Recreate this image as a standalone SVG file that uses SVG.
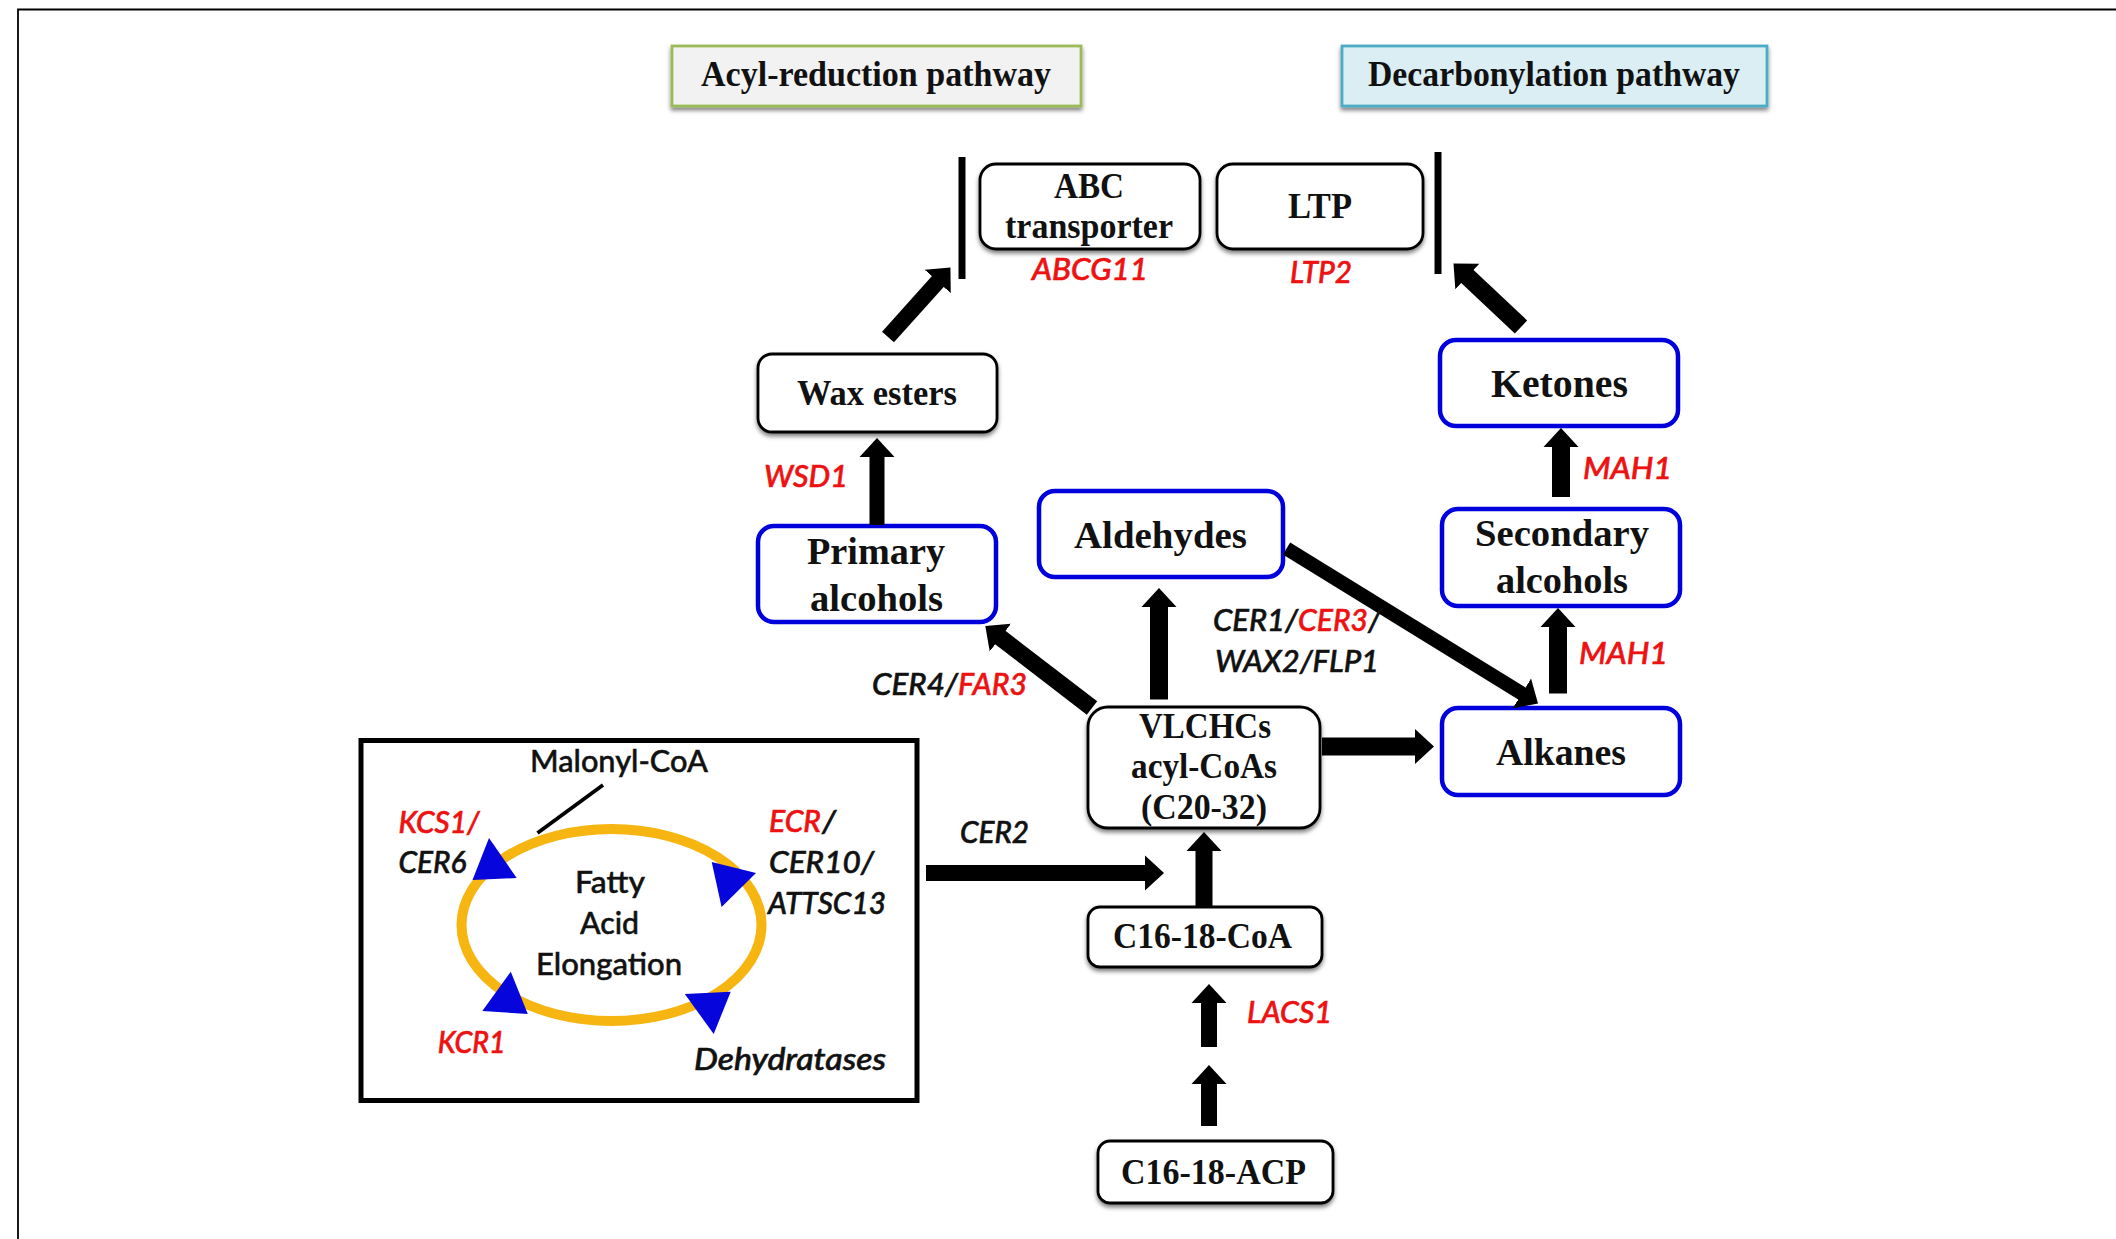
<svg xmlns="http://www.w3.org/2000/svg" width="2116" height="1239" viewBox="0 0 2116 1239">
<style>
.box{fill:#fff;stroke:#000;stroke-width:2.8;filter:url(#sh)}
.blue{fill:#fff;stroke:#0000dd;stroke-width:4.5}
.t{font-family:"Liberation Serif","Times New Roman",serif;font-weight:700;fill:#111}
.g{font-family:Lato,"Liberation Sans",sans-serif;font-style:italic;font-weight:500;font-size:30px;fill:#111;stroke:#111;stroke-width:.6}
.g .r,.g.r{fill:#ee1111;stroke:#ee1111}
.s{font-family:Lato,"Liberation Sans",sans-serif;font-weight:500;font-size:31px;fill:#111;stroke:#111;stroke-width:.5}
.arr{fill:none;stroke:#000;marker-end:url(#ah)}
.tri{fill:#0505dc}
</style>
<defs>
<filter id="sh" x="-10%" y="-10%" width="120%" height="130%"><feDropShadow dx="0" dy="3" stdDeviation="2.2" flood-color="#000" flood-opacity="0.5"/></filter>
<marker id="ah" markerUnits="userSpaceOnUse" markerWidth="20" markerHeight="36" refX="1" refY="18" orient="auto"><path d="M0 0.5L19 18L0 35.500z" fill="#000"/></marker>
</defs>
<rect width="2116" height="1239" fill="#fff"/>
<path id="frame" d="M18 1239V9.500H2116" fill="none" stroke="#000" stroke-width="1.800"/>

<g id="acyl-pathway"><rect class="box" style="fill:#f2f2f2;stroke:#9bbb59" x="672" y="46" width="409" height="60"/><text class="t" x="701" y="86" font-size="36" textLength="350" lengthAdjust="spacingAndGlyphs">Acyl-reduction pathway</text></g>
<g id="decarb-pathway"><rect class="box" style="fill:#daeef3;stroke:#4bacc6" x="1342" y="46" width="425" height="60"/><text class="t" x="1368" y="86" font-size="36" textLength="372" lengthAdjust="spacingAndGlyphs">Decarbonylation pathway</text></g>

<g id="abc"><rect class="box" x="980" y="164" width="220" height="85" rx="16"/><text class="t" x="1054" y="198" font-size="36" textLength="70" lengthAdjust="spacingAndGlyphs">ABC</text><text class="t" x="1005" y="238" font-size="36" textLength="168" lengthAdjust="spacingAndGlyphs">transporter</text></g>
<g id="ltp"><rect class="box" x="1217" y="164" width="206" height="85" rx="16"/><text class="t" x="1288" y="218" font-size="36" textLength="64" lengthAdjust="spacingAndGlyphs">LTP</text></g>
<g id="wax"><rect class="box" x="758" y="354" width="239" height="78" rx="14"/><text class="t" x="797" y="405" font-size="36" textLength="160" lengthAdjust="spacingAndGlyphs">Wax esters</text></g>
<g id="ketones"><rect class="blue" x="1440" y="340" width="238" height="86" rx="16"/><text class="t" x="1491" y="397" font-size="40" textLength="137" lengthAdjust="spacingAndGlyphs">Ketones</text></g>
<g id="primary"><rect class="blue" x="758" y="526" width="238" height="96" rx="16"/><text class="t" x="807" y="564" font-size="38" textLength="138" lengthAdjust="spacingAndGlyphs">Primary</text><text class="t" x="810" y="611" font-size="38" textLength="133" lengthAdjust="spacingAndGlyphs">alcohols</text></g>
<g id="aldehydes"><rect class="blue" x="1039" y="491" width="244" height="86" rx="16"/><text class="t" x="1074" y="548" font-size="38" textLength="173" lengthAdjust="spacingAndGlyphs">Aldehydes</text></g>
<g id="secondary"><rect class="blue" x="1442" y="509" width="238" height="97" rx="16"/><text class="t" x="1475" y="546" font-size="38" textLength="174" lengthAdjust="spacingAndGlyphs">Secondary</text><text class="t" x="1496" y="593" font-size="38" textLength="132" lengthAdjust="spacingAndGlyphs">alcohols</text></g>
<g id="alkanes"><rect class="blue" x="1442" y="708" width="238" height="87" rx="16"/><text class="t" x="1496" y="765" font-size="38" textLength="130" lengthAdjust="spacingAndGlyphs">Alkanes</text></g>
<g id="vlchc"><rect class="box" x="1088" y="707" width="232" height="121" rx="20"/><text class="t" x="1139" y="738" font-size="35" textLength="132" lengthAdjust="spacingAndGlyphs">VLCHCs</text><text class="t" x="1131" y="778" font-size="35" textLength="146" lengthAdjust="spacingAndGlyphs">acyl-CoAs</text><text class="t" x="1141" y="819" font-size="35" textLength="126" lengthAdjust="spacingAndGlyphs">(C20-32)</text></g>
<g id="coa"><rect class="box" x="1088" y="907" width="234" height="60" rx="12"/><text class="t" x="1113" y="948" font-size="35" textLength="179" lengthAdjust="spacingAndGlyphs">C16-18-CoA</text></g>
<g id="acp"><rect class="box" x="1098" y="1141" width="235" height="62" rx="12"/><text class="t" x="1121" y="1184" font-size="35" textLength="185" lengthAdjust="spacingAndGlyphs">C16-18-ACP</text></g>

<g id="elongation">
<rect x="361" y="740.500" width="556" height="360" fill="#fff" stroke="#000" stroke-width="5"/>
<ellipse cx="611.500" cy="925" rx="150" ry="96" fill="none" stroke="#f6b511" stroke-width="10"/>
<line x1="537.500" y1="833" x2="603" y2="785" stroke="#000" stroke-width="3.800"/>
<polygon class="tri" points="489,838 472.500,880 516.700,878"/>
<polygon class="tri" points="711.700,862 756,873 721.600,907"/>
<polygon class="tri" points="684.800,994 730.700,991.700 713.700,1034"/>
<polygon class="tri" points="510.800,971.700 482.300,1011 527.800,1014"/>
<text class="s" x="530" y="772" textLength="178" lengthAdjust="spacingAndGlyphs">Malonyl-CoA</text>
<text class="s" x="575" y="893" textLength="70" lengthAdjust="spacingAndGlyphs">Fatty</text>
<text class="s" x="580" y="934" textLength="59" lengthAdjust="spacingAndGlyphs">Acid</text>
<text class="s" x="536" y="975" textLength="146" lengthAdjust="spacingAndGlyphs">Elongation</text>
<text class="g r" x="398.500" y="833" textLength="81" lengthAdjust="spacingAndGlyphs">KCS1/</text>
<text class="g" x="398.500" y="873" textLength="68" lengthAdjust="spacingAndGlyphs">CER6</text>
<text class="g" y="832"><tspan class="r" x="769" textLength="52" lengthAdjust="spacingAndGlyphs">ECR</tspan><tspan x="822" textLength="14" lengthAdjust="spacingAndGlyphs">/</tspan></text>
<text class="g" x="769" y="873" textLength="105" lengthAdjust="spacingAndGlyphs">CER10/</text>
<text class="g" x="768" y="914" textLength="118" lengthAdjust="spacingAndGlyphs">ATTSC13</text>
<text class="g r" x="437.700" y="1053" textLength="68" lengthAdjust="spacingAndGlyphs">KCR1</text>
<text class="g" x="694" y="1070" textLength="192" lengthAdjust="spacingAndGlyphs">Dehydratases</text>
</g>

<g id="connectors">
<line x1="962" y1="157" x2="962" y2="279" stroke="#000" stroke-width="7"/>
<line x1="1438" y1="152" x2="1438" y2="274" stroke="#000" stroke-width="7"/>
<line class="arr" style="stroke-width:16" x1="888" y1="337" x2="938.400" y2="280.800"/>
<line class="arr" style="stroke-width:18" x1="1521" y1="327" x2="1466.600" y2="275.800"/>
<line class="arr" style="stroke-width:15" x1="877" y1="525" x2="877" y2="456"/>
<line class="arr" style="stroke-width:18" x1="1561" y1="497" x2="1561" y2="446"/>
<line class="arr" style="stroke-width:18" x1="1558" y1="693.500" x2="1558" y2="626"/>
<line class="arr" style="stroke-width:18" x1="1159" y1="699.500" x2="1159" y2="606"/>
<line class="arr" style="stroke-width:17" x1="1092" y1="708" x2="999.600" y2="637"/>
<line class="arr" style="stroke-width:14" x1="1286.500" y1="548.500" x2="1522.700" y2="694"/>
<line class="arr" style="stroke-width:18" x1="1322" y1="746.500" x2="1416" y2="746.500"/>
<line class="arr" style="stroke-width:16" x1="926" y1="873" x2="1146" y2="873"/>
<line class="arr" style="stroke-width:17" x1="1204" y1="907" x2="1204" y2="850"/>
<line class="arr" style="stroke-width:16" x1="1209" y1="1047" x2="1209" y2="1002"/>
<line class="arr" style="stroke-width:16" x1="1209" y1="1126" x2="1209" y2="1083"/>
</g>

<g id="labels">
<text class="g r" x="1032" y="280" textLength="116" lengthAdjust="spacingAndGlyphs">ABCG11</text>
<text class="g r" x="1290" y="283" textLength="62" lengthAdjust="spacingAndGlyphs">LTP2</text>
<text class="g r" x="764" y="487" textLength="84" lengthAdjust="spacingAndGlyphs">WSD1</text>
<text class="g r" x="1583" y="479" textLength="89" lengthAdjust="spacingAndGlyphs">MAH1</text>
<text class="g r" x="1579" y="664" textLength="89" lengthAdjust="spacingAndGlyphs">MAH1</text>
<text class="g" y="695"><tspan x="872" textLength="86" lengthAdjust="spacingAndGlyphs">CER4/</tspan><tspan class="r" x="958" textLength="69" lengthAdjust="spacingAndGlyphs">FAR3</tspan></text>
<text class="g" y="631"><tspan x="1213" textLength="85" lengthAdjust="spacingAndGlyphs">CER1/</tspan><tspan class="r" x="1298" textLength="70" lengthAdjust="spacingAndGlyphs">CER3</tspan><tspan x="1368" textLength="13" lengthAdjust="spacingAndGlyphs">/</tspan></text>
<text class="g" x="1215" y="672" textLength="164" lengthAdjust="spacingAndGlyphs">WAX2/FLP1</text>
<text class="g" x="960" y="843" textLength="69" lengthAdjust="spacingAndGlyphs">CER2</text>
<text class="g r" x="1247" y="1023" textLength="85" lengthAdjust="spacingAndGlyphs">LACS1</text>
</g>
</svg>
